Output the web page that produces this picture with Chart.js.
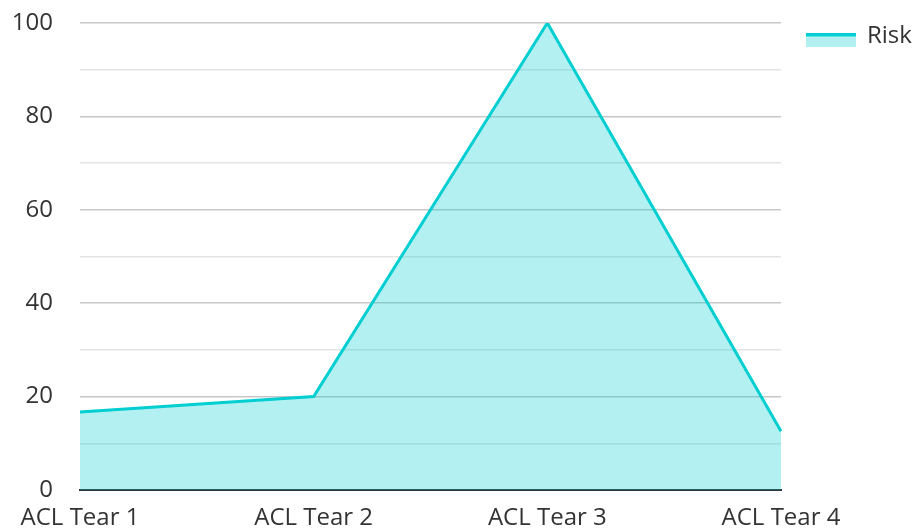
<!DOCTYPE html>
<html>
<head>
<meta charset="utf-8">
<style>
  html, body { margin: 0; padding: 0; background: #fff; }
  #wrap { width: 914px; height: 531px; position: relative; }
</style>
<script src="https://cdn.jsdelivr.net/npm/chart.js@4/dist/chart.umd.min.js"></script>
</head>
<body>
<div id="wrap"><canvas id="c"></canvas></div>
<script>
const categories = ['ACL Tear 1', 'ACL Tear 2', 'ACL Tear 3', 'ACL Tear 4'];
const riskValues = [16.7, 20, 100, 12.6];
const seriesName = 'Risk';

const LINE = 'rgb(0,206,209)';
const FILL = 'rgba(0,206,209,0.3)';
const TEXT = '#333';
const FONT_SIZE = 24;

// Legend drawn to the right of the plot: thick line over a filled swatch
const sideLegend = {
  id: 'sideLegend',
  afterDraw(chart) {
    const ctx = chart.ctx;
    const ds = chart.data.datasets[0];
    const x = 806, y = 33, w = 50, h = 14;
    ctx.save();
    ctx.fillStyle = ds.backgroundColor;
    ctx.fillRect(x, y, w, h);
    ctx.fillStyle = ds.borderColor;
    ctx.fillRect(x, y, w, 3.5);
    ctx.fillStyle = TEXT;
    ctx.font = FONT_SIZE + 'px "Open Sans"';
    ctx.textBaseline = 'middle';
    ctx.textAlign = 'left';
    ctx.fillText(ds.label, 867, 36);
    ctx.restore();
  }
};

new Chart(document.getElementById('c'), {
  type: 'line',
  data: {
    labels: categories,
    datasets: [{
      label: seriesName,
      data: riskValues,
      borderColor: LINE,
      backgroundColor: FILL,
      borderWidth: 3,
      fill: 'origin',
      tension: 0,
      pointRadius: 0,
      pointHoverRadius: 0
    }]
  },
  options: {
    responsive: true,
    maintainAspectRatio: false,
    animation: false,
    layout: { padding: { top: 23, right: 133, left: 0, bottom: 0 } },
    plugins: {
      legend: { display: false },
      tooltip: { enabled: false }
    },
    scales: {
      x: {
        offset: false,
        grid: { display: false, drawTicks: false },
        border: { display: true, color: '#333', width: 2 },
        ticks: {
          color: TEXT,
          font: { family: 'Open Sans', size: FONT_SIZE },
          padding: 14,
          maxRotation: 0,
          autoSkip: false
        },
        afterFit(scale) { scale.height = 41; }
      },
      y: {
        min: 0,
        max: 100,
        grid: {
          drawTicks: false,
          color: (c) => (c.tick && c.tick.value % 20 === 0) ? '#c8c8c8' : '#e4e4e4',
          lineWidth: 1.5
        },
        border: { display: false },
        ticks: {
          stepSize: 10,
          color: TEXT,
          font: { family: 'Open Sans', size: FONT_SIZE },
          padding: 27,
          callback: (v) => (v % 20 === 0 ? v : '')
        },
        afterFit(scale) {
          scale.width = 80;
          scale.paddingTop = 0;
          scale.paddingBottom = 0;
        }
      }
    }
  },
  plugins: [sideLegend]
});
</script>
</body>
</html>
